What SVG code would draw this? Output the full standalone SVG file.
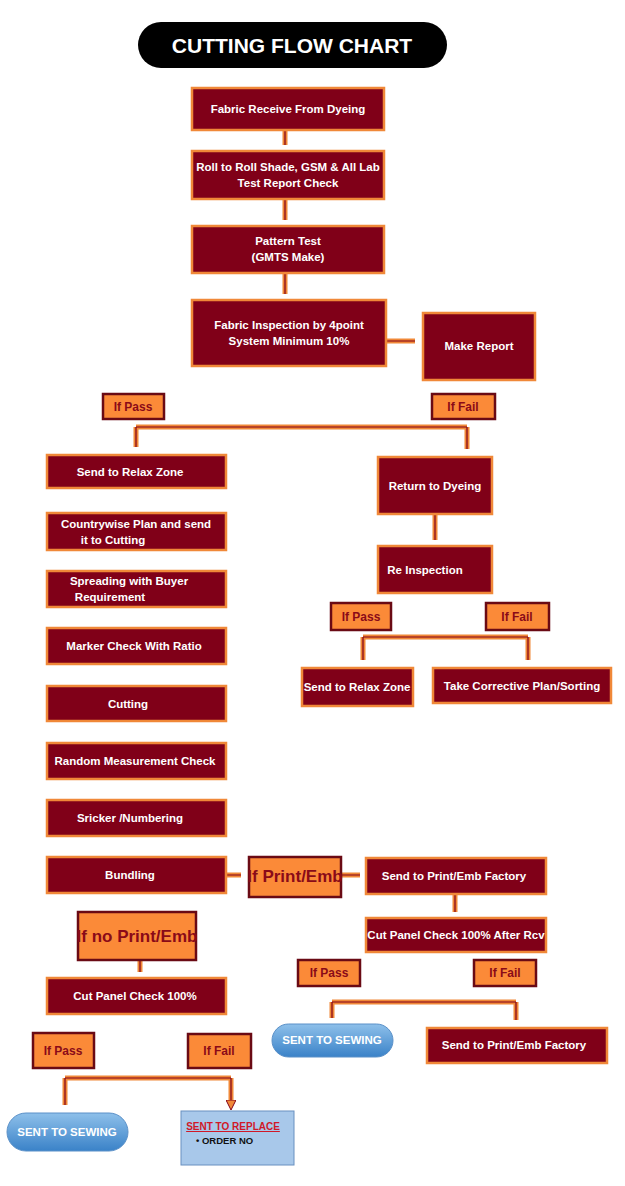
<svg xmlns="http://www.w3.org/2000/svg" width="625" height="1186" viewBox="0 0 625 1186">
<defs>
<style>
.b{fill:#800018;stroke:#f08838;stroke-width:2.5}
.o{fill:#fb8a38;stroke:#6a0a14;stroke-width:2.5}
.t{font-family:"Liberation Sans",Arial,sans-serif;font-weight:bold;font-size:11.5px;fill:#fff;text-anchor:middle}
.ot{font-family:"Liberation Sans",Arial,sans-serif;font-weight:bold;font-size:12px;fill:#8a0a18;text-anchor:middle}
.big{font-size:17px}
.co{fill:none;stroke:#f08838;stroke-width:5}
.ci{fill:none;stroke:#800018;stroke-width:1.2}
.st{font-family:"Liberation Sans",Arial,sans-serif;font-weight:bold;font-size:11.5px;fill:#fff;text-anchor:middle}
.bl{font-family:"Liberation Sans",Arial,sans-serif;font-weight:bold;font-size:9.5px;fill:#111}
</style>
<linearGradient id="pill" x1="0" y1="0" x2="0" y2="1"><stop offset="0" stop-color="#8ec0ea"/><stop offset="1" stop-color="#3a82c8"/></linearGradient>
<marker id="ah" markerWidth="10" markerHeight="10" refX="5" refY="5" orient="auto" markerUnits="userSpaceOnUse"><path d="M0,0 L10,5 L0,10 Z" fill="#f08838" stroke="#800018" stroke-width="1"/></marker>
</defs>
<g id="title"><rect x="138" y="22" width="309" height="46" rx="23" fill="#000"/><text x="292" y="53" font-family="Liberation Sans,Arial,sans-serif" font-weight="bold" font-size="21" fill="#fff" text-anchor="middle">CUTTING FLOW CHART</text></g>
<g id="connectors">
<path class="co" d="M285,130V145 M285,199V220 M285,273V294 M386,341H415 M136,427H467 M136,427V447 M467,427V449 M435,514V540 M363,637H528 M363,637V660 M528,637V660 M226,875H241 M341,875H360 M455,894V912 M332,1002H516 M332,1002V1018 M516,1002V1020 M140,960V972 M65,1078H231 M65,1078V1105 M231,1078V1103"/>
<path class="ci" d="M285,130V145 M285,199V220 M285,273V294 M386,341H415 M136,427H467 M136,427V447 M467,427V449 M435,514V540 M363,637H528 M363,637V660 M528,637V660 M226,875H241 M341,875H360 M455,894V912 M332,1002H516 M332,1002V1018 M516,1002V1020 M140,960V972 M65,1078H231 M65,1078V1105 M231,1078V1103"/>
<path d="M285,140V147 M285,214V222 M285,288V296 M410,341H417 M136,444V451 M467,446V453 M435,534V542 M363,655V662 M528,655V662 M236,875H243 M355,875H362 M455,906V914 M332,1012V1020 M516,1014V1022 M140,966V974 M65,1099V1107 M231,1097V1105" stroke="none" fill="none" marker-end="url(#ah)"/>
</g>
<g id="n1"><rect class="b" x="192" y="88" width="192" height="42"/><text class="t" x="288" y="113">Fabric Receive From Dyeing</text></g>
<g id="n2"><rect class="b" x="192" y="151" width="192" height="48"/><text class="t" x="288" y="171">Roll to Roll Shade, GSM &amp; All Lab</text><text class="t" x="288" y="187">Test Report Check</text></g>
<g id="n3"><rect class="b" x="192" y="226" width="192" height="47"/><text class="t" x="288" y="245">Pattern Test</text><text class="t" x="288" y="261">(GMTS Make)</text></g>
<g id="n4"><rect class="b" x="192" y="300" width="194" height="66"/><text class="t" x="289" y="329">Fabric Inspection by 4point</text><text class="t" x="289" y="345">System Minimum 10%</text></g>
<g id="n5"><rect class="b" x="423" y="313" width="112" height="67"/><text class="t" x="479" y="350">Make Report</text></g>
<g id="p1"><rect class="o" x="103" y="394" width="61" height="25"/><text class="ot" x="133" y="411">If Pass</text></g>
<g id="f1"><rect class="o" x="432" y="394" width="63" height="25"/><text class="ot" x="463" y="411">If Fail</text></g>
<g id="l1"><rect class="b" x="47" y="455" width="179" height="33"/><text class="t" x="130" y="476">Send to Relax Zone</text></g>
<g id="l2"><rect class="b" x="47" y="513" width="179" height="37"/><text class="t" x="136" y="528">Countrywise Plan and send</text><text class="t" x="113" y="544">it to Cutting</text></g>
<g id="l3"><rect class="b" x="47" y="571" width="179" height="36"/><text class="t" x="129" y="585">Spreading with Buyer</text><text class="t" x="110" y="601">Requirement</text></g>
<g id="l4"><rect class="b" x="47" y="628" width="179" height="36"/><text class="t" x="134" y="650">Marker Check With Ratio</text></g>
<g id="l5"><rect class="b" x="47" y="686" width="179" height="35"/><text class="t" x="128" y="708">Cutting</text></g>
<g id="l6"><rect class="b" x="47" y="743" width="179" height="36"/><text class="t" x="135" y="765">Random Measurement Check</text></g>
<g id="l7"><rect class="b" x="47" y="800" width="179" height="36"/><text class="t" x="130" y="822">Sricker /Numbering</text></g>
<g id="l8"><rect class="b" x="47" y="857" width="179" height="36"/><text class="t" x="130" y="879">Bundling</text></g>
<g id="r1"><rect class="b" x="378" y="457" width="114" height="57"/><text class="t" x="435" y="490">Return to Dyeing</text></g>
<g id="r2"><rect class="b" x="378" y="546" width="114" height="47"/><text class="t" x="425" y="574">Re Inspection</text></g>
<g id="p2"><rect class="o" x="331" y="603" width="60" height="27"/><text class="ot" x="361" y="621">If Pass</text></g>
<g id="f2"><rect class="o" x="486" y="603" width="63" height="27"/><text class="ot" x="517" y="621">If Fail</text></g>
<g id="r3"><rect class="b" x="302" y="668" width="111" height="38"/><text class="t" x="357" y="691">Send to Relax Zone</text></g>
<g id="r4"><rect class="b" x="433" y="668" width="178" height="35"/><text class="t" x="522" y="690">Take Corrective Plan/Sorting</text></g>
<g id="pe"><rect class="o" x="249" y="857" width="92" height="40"/><text class="ot big" x="295" y="882">If Print/Emb</text></g>
<g id="s1"><rect class="b" x="366" y="858" width="180" height="36"/><text class="t" x="454" y="880">Send to Print/Emb Factory</text></g>
<g id="s2"><rect class="b" x="366" y="918" width="180" height="34"/><text class="t" x="456" y="939">Cut Panel Check 100%  After Rcv</text></g>
<g id="p3"><rect class="o" x="298" y="960" width="62" height="26"/><text class="ot" x="329" y="977">If Pass</text></g>
<g id="f3"><rect class="o" x="474" y="960" width="62" height="26"/><text class="ot" x="505" y="977">If Fail</text></g>
<g id="sw2"><rect x="272" y="1024" width="121" height="33" rx="16.5" fill="url(#pill)" stroke="#5a90c8"/><text class="st" x="332" y="1044">SENT TO SEWING</text></g>
<g id="s3"><rect class="b" x="427" y="1028" width="180" height="35"/><text class="t" x="514" y="1049">Send to Print/Emb Factory</text></g>
<g id="np"><rect class="o" x="78" y="912" width="118" height="48"/><text class="ot big" x="137" y="942">If no Print/Emb</text></g>
<g id="c1"><rect class="b" x="47" y="978" width="179" height="36"/><text class="t" x="135" y="1000">Cut Panel Check 100%</text></g>
<g id="p4"><rect class="o" x="33" y="1033" width="61" height="35"/><text class="ot" x="63" y="1038" dy="0"/><text class="ot" x="63" y="1040"></text><text class="ot" x="63" y="1039" visibility="hidden"></text><text class="ot" x="63" y="1040" style="display:none"></text><text class="ot" x="63" y="1041" style="display:none"></text><text class="ot" x="63" y="1040" style="display:none"></text><text class="ot" x="63" y="1040" style="display:none"></text><text class="ot" x="63" y="1040" style="display:none"></text><text class="ot" x="63" y="1040" style="display:none"></text><text class="ot" x="63" y="1040" style="display:none"></text><text class="ot" x="63" y="1041" style="display:none"></text><text class="ot" x="63" y="1040" style="display:none"></text><text class="ot" x="63" y="1040" style="display:none"></text><text class="ot" x="63" y="1040" style="display:none"></text><text class="ot" x="63" y="1040" style="display:none"></text><text class="ot" x="63" y="1040" style="display:none"></text><text class="ot" x="63" y="1040" style="display:none"></text><text class="ot" x="63" y="1040" style="display:none"></text><text class="ot" x="63" y="1040" style="display:none"></text><text class="ot" x="63" y="1040" style="display:none"></text><text class="ot" x="63" y="1040" style="display:none"></text><text class="ot" x="63" y="1040" style="display:none"></text><text class="ot" x="63" y="1040" style="display:none"></text><text class="ot" x="63" y="1040" style="display:none"></text><text class="ot" x="63" y="1040" style="display:none"></text><text class="ot" x="63" y="1040" style="display:none"></text><text class="ot" x="63" y="1040" style="display:none"></text><text class="ot" x="63" y="1040" style="display:none"></text><text class="ot" x="63" y="1040" style="display:none"></text><text class="ot" x="63" y="1040" style="display:none"></text><text class="ot" x="63" y="1040" style="display:none"></text><text class="ot" x="63" y="1040" style="display:none"></text><text class="ot" x="63" y="1040" style="display:none"></text><text class="ot" x="63" y="1040" style="display:none"></text><text class="ot" x="63" y="1040" style="display:none"></text><text class="ot" x="63" y="1040" style="display:none"></text><text class="ot" x="63" y="1040" style="display:none"></text><text class="ot" x="63" y="1040" style="display:none"></text><text class="ot" x="63" y="1040" style="display:none"></text><text class="ot" x="63" y="1040" style="display:none"></text><text class="ot" x="63" y="1040" style="display:none"></text><text class="ot" x="63" y="1040" style="display:none"></text><text class="ot" x="63" y="1055">If Pass</text></g>
<g id="f4"><rect class="o" x="188" y="1034" width="63" height="34"/><text class="ot" x="219" y="1055">If Fail</text></g>
<g id="sw1"><rect x="7" y="1113" width="121" height="38" rx="19" fill="url(#pill)" stroke="#5a90c8"/><text class="st" x="67" y="1136">SENT TO SEWING</text></g>
<g id="rep"><rect x="181" y="1111" width="113" height="54" fill="#a8c8ea" stroke="#6890c0"/><text x="233" y="1130" font-family="Liberation Sans,Arial,sans-serif" font-weight="bold" font-size="10" fill="#d01828" text-anchor="middle" text-decoration="underline">SENT TO REPLACE</text><text class="bl" x="196" y="1144">• ORDER NO</text><text class="bl" x="196" y="1158" visibility="hidden">.</text></g>
</svg>
